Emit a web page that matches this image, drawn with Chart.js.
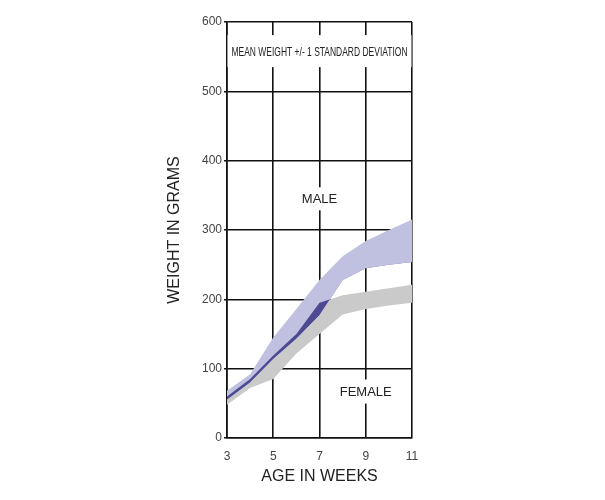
<!DOCTYPE html>
<html>
<head>
<meta charset="utf-8">
<script src="https://cdn.jsdelivr.net/npm/chart.js@4/dist/chart.umd.min.js"></script>
<style>
  html, body { margin: 0; padding: 0; background: #fff; }
</style>
</head>
<body>
<canvas id="weightChart" width="605" height="500"></canvas>
<script>
// Datos (media +/- 1 desviacion estandar)
const weeks = [3, 4, 5, 6, 7, 8, 9, 10, 11];
const maleLow = [55, 80, 114, 143, 177, 228, 245, 250, 254];
const maleHigh = [68, 92, 145, 186, 228, 262, 284, 300, 315];
const femaleLow = [48, 72, 85, 122, 150, 178, 186, 191, 195];
const femaleHigh = [60, 85, 119, 150, 195, 206, 211, 216, 221];

const notes = [
    { text: 'MEAN WEIGHT +/- 1 STANDARD DEVIATION', x: 7, y: 558, fit: 176, boxH: 32 },
    { text: 'MALE', x: 7, y: 345, boxH: 23 },
    { text: 'FEMALE', x: 9, y: 67, boxH: 24 }
];

const lavender = 'rgb(192,192,224)';
const grey = 'rgb(202,202,202)';
const navy = 'rgb(78,74,146)';
const ink = '#111';

function pts(vals) {
    return weeks.map((w, i) => ({ x: w, y: vals[i] }));
}

function band(label, vals, fill) {
    return {
        label: label,
        data: pts(vals),
        borderWidth: 0,
        pointRadius: 0,
        tension: 0,
        fill: fill
    };
}

// rotulos con fondo blanco que cortan la reticula
const notesPlugin = {
    id: 'notes',
    beforeDatasetsDraw(chart) {
        const ctx = chart.ctx;
        const xs = chart.scales.x, ys = chart.scales.y;
        ctx.save();
        ctx.font = '13px "Liberation Sans", Arial, sans-serif';
        ctx.textAlign = 'center';
        ctx.textBaseline = 'middle';
        notes.forEach(n => {
            const px = xs.getPixelForValue(n.x);
            const py = ys.getPixelForValue(n.y);
            const w = ctx.measureText(n.text).width;
            const k = n.fit ? n.fit / w : 1;
            const bw = w * k + 8;
            ctx.fillStyle = '#fff';
            ctx.fillRect(px - bw / 2, py - n.boxH / 2, bw, n.boxH);
            ctx.fillStyle = '#222';
            ctx.save();
            ctx.translate(px, py);
            ctx.scale(k, 1);
            ctx.fillText(n.text, 0, 1);
            ctx.restore();
        });
        ctx.restore();
    }
};

const ctx = document.getElementById('weightChart').getContext('2d');
new Chart(ctx, {
    type: 'line',
    data: {
        datasets: [
            band('overlap', femaleHigh, { target: 3, above: navy, below: 'rgba(0,0,0,0)' }),
            band('male', maleHigh, { target: 3, above: lavender, below: lavender }),
            band('female', femaleHigh, { target: 4, above: grey, below: grey }),
            band('male low', maleLow, false),
            band('female low', femaleLow, false)
        ]
    },
    options: {
        responsive: false,
        animation: false,
        devicePixelRatio: 1,
        layout: { padding: { left: 161, right: 193, top: 22, bottom: 10 } },
        plugins: {
            legend: { display: false },
            tooltip: { enabled: false }
        },
        scales: {
            x: {
                type: 'linear',
                min: 3,
                max: 11,
                afterFit: s => { s.height = 52; },
                ticks: {
                    stepSize: 2,
                    padding: 11,
                    color: '#444',
                    font: { family: '"Liberation Sans", Arial, sans-serif', size: 12 }
                },
                grid: { color: ink, lineWidth: 1.6, drawTicks: false },
                border: { color: ink, width: 1.6 },
                title: {
                    display: true,
                    text: 'AGE IN WEEKS',
                    color: '#222',
                    font: { family: '"Liberation Sans", Arial, sans-serif', size: 16 }
                }
            },
            y: {
                min: 0,
                max: 600,
                afterFit: s => { s.width = 66; },
                ticks: {
                    stepSize: 100,
                    padding: 2,
                    color: '#444',
                    font: { family: '"Liberation Sans", Arial, sans-serif', size: 12 }
                },
                grid: { color: ink, lineWidth: 1.6, tickLength: 3 },
                border: { color: ink, width: 1.6 },
                title: {
                    display: true,
                    text: 'WEIGHT IN GRAMS',
                    color: '#222',
                    font: { family: '"Liberation Sans", Arial, sans-serif', size: 16 }
                }
            }
        }
    },
    plugins: [notesPlugin]
});
</script>
</body>
</html>
